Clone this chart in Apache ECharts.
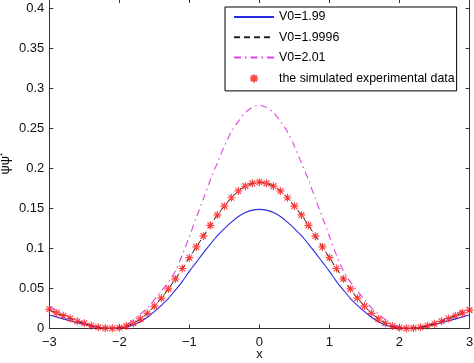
<!DOCTYPE html>
<html>
<head>
<meta charset="utf-8">
<script src="https://cdn.jsdelivr.net/npm/echarts@6/dist/echarts.min.js"></script>
<style>html,body{margin:0;padding:0;background:#fff}#c{width:474px;height:363px}</style>
</head>
<body>
<div id="c"></div>
<script>
const xs = [-3.0,-2.9,-2.8,-2.7,-2.6,-2.5,-2.4,-2.3,-2.2,-2.1,-2.0,-1.9,-1.8,-1.7,-1.6,-1.5,-1.4,-1.3,-1.2,-1.1,-1.0,-0.9,-0.8,-0.7,-0.6,-0.5,-0.4,-0.3,-0.2,-0.1,0.0,0.1,0.2,0.3,0.4,0.5,0.6,0.7,0.8,0.9,1.0,1.1,1.2,1.3,1.4,1.5,1.6,1.7,1.8,1.9,2.0,2.1,2.2,2.3,2.4,2.5,2.6,2.7,2.8,2.9,3.0];
const v199 = [0.017,0.0145,0.012,0.0096,0.0072,0.005,0.003,0.0014,0.0005,0.0002,0.0005,0.0018,0.0045,0.0085,0.014,0.021,0.029,0.0375,0.048,0.059,0.0715,0.083,0.0945,0.1055,0.116,0.125,0.133,0.140,0.145,0.148,0.149,0.148,0.145,0.140,0.133,0.125,0.116,0.1055,0.0945,0.083,0.0715,0.059,0.048,0.0375,0.029,0.021,0.014,0.0085,0.0045,0.0018,0.0005,0.0002,0.0005,0.0014,0.003,0.005,0.0072,0.0096,0.012,0.0145,0.017];
const v19996 = [0.023,0.0195,0.016,0.0125,0.009,0.006,0.0035,0.0015,0.0005,0.0002,0.001,0.003,0.0065,0.012,0.019,0.028,0.038,0.0495,0.062,0.075,0.0885,0.102,0.1155,0.129,0.142,0.153,0.1635,0.172,0.178,0.1815,0.183,0.1815,0.178,0.172,0.1635,0.153,0.142,0.129,0.1155,0.102,0.0885,0.075,0.062,0.0495,0.038,0.028,0.019,0.012,0.0065,0.003,0.001,0.0002,0.0005,0.0015,0.0035,0.006,0.009,0.0125,0.016,0.0195,0.023];
const v201 = [0.028,0.023,0.018,0.014,0.010,0.007,0.004,0.002,0.0005,0.0003,0.002,0.005,0.011,0.018,0.026,0.036,0.047,0.058,0.072,0.092,0.115,0.139,0.162,0.186,0.207,0.228,0.246,0.259,0.270,0.2765,0.279,0.2765,0.270,0.259,0.246,0.228,0.207,0.186,0.162,0.139,0.115,0.092,0.072,0.058,0.047,0.036,0.026,0.018,0.011,0.005,0.002,0.0003,0.0005,0.002,0.004,0.007,0.010,0.014,0.018,0.023,0.028];
const expData = [0.024,0.0195,0.016,0.0125,0.009,0.0065,0.0035,0.0015,0.0005,0.0002,0.001,0.003,0.0065,0.012,0.019,0.028,0.038,0.0495,0.062,0.075,0.0885,0.102,0.1155,0.129,0.142,0.153,0.1635,0.172,0.178,0.1815,0.183,0.1815,0.178,0.172,0.1635,0.153,0.142,0.129,0.1155,0.102,0.0885,0.075,0.062,0.0495,0.038,0.028,0.019,0.012,0.0065,0.003,0.001,0.0002,0.0005,0.0015,0.0035,0.006,0.009,0.0125,0.016,0.0195,0.023];
const xTicks = [-3,-2,-1,0,1,2,3];
const yTicks = [0,0.05,0.1,0.15,0.2,0.25,0.3,0.35,0.4];
const names = ['V0=1.99','V0=1.9996','V0=2.01','the simulated experimental data'];

const pairs = v => xs.map((x,i)=>[x,v[i]]);
const FONT = 'Liberation Sans, Arial, Helvetica, sans-serif';
const AX = '#333';
const star = 'path://M0,-5L0,5M-5,0L5,0M-3.6,-3.6L3.6,3.6M-3.6,3.6L3.6,-3.6';

const chart = echarts.init(document.getElementById('c'), null, {renderer:'canvas'});
const xBase = {
  type:'value', min:-3, max:3, interval:1,
  axisLine:{show:true, onZero:false, lineStyle:{color:AX,width:1}},
  axisTick:{show:true, inside:true, length:4, lineStyle:{color:AX}},
  splitLine:{show:false}
};
const yBase = {
  type:'value', min:0, max:0.412, interval:0.05,
  axisLine:{show:true, onZero:false, lineStyle:{color:AX,width:1}},
  axisTick:{show:true, inside:true, length:4, lineStyle:{color:AX}},
  splitLine:{show:false}
};
chart.setOption({
  animation:false,
  backgroundColor:'#fff',
  grid:{left:49.3, right:4.5, top:-1, bottom:34.5, containLabel:false, outerBoundsMode:'none'},
  xAxis:[
    Object.assign({}, xBase, {position:'bottom',
      name:'x', nameLocation:'middle', nameGap:19, nameMoveOverlap:false,
      nameTextStyle:{fontFamily:FONT, fontSize:13, color:'#111'},
      axisLabel:{show:true, margin:7, fontFamily:FONT, fontSize:13, color:'#111',
        formatter:v=> xTicks.includes(v) ? String(v).replace('-','\u2212') : ''}}),
    Object.assign({}, xBase, {position:'top', axisLabel:{show:false}})
  ],
  yAxis:[
    Object.assign({}, yBase, {position:'left',
      name:'{a|\u03c8\u03c8}{s|*}', nameLocation:'middle', nameGap:37, nameMoveOverlap:false,
      nameTextStyle:{fontFamily:FONT, fontSize:13, color:'#111',
        rich:{a:{fontFamily:FONT,fontSize:13,color:'#111'}, s:{fontFamily:FONT,fontSize:8,color:'#111',padding:[0,0,6,0]}}},
      axisLabel:{show:true, margin:5, fontFamily:FONT, fontSize:13, color:'#111',
        formatter:v=>{ const m = yTicks.find(t=>Math.abs(t-v)<1e-9); return m===undefined ? '' : String(m); }}}),
    Object.assign({}, yBase, {position:'right', axisLabel:{show:false}})
  ],
  legend:{
    orient:'vertical', left:225, top:7,
    padding:[4,2,6,8], itemGap:8.3, itemWidth:40, itemHeight:8,
    backgroundColor:'#fff', borderColor:'#000', borderWidth:1, borderRadius:0,
    textStyle:{fontFamily:FONT, fontSize:12.4, color:'#000'},
    data:[
      {name:names[0], itemStyle:{opacity:0}},
      {name:names[1], itemStyle:{opacity:0}},
      {name:names[2], itemStyle:{opacity:0}},
      {name:names[3]}
    ]
  },
  series:[
    {name:names[0], type:'line', data:pairs(v199), smooth:0.3, symbol:'none', showSymbol:false,
     lineStyle:{color:'#2a2ae6', width:1.1}, itemStyle:{color:'#2a2ae6'}, z:2},
    {name:names[1], type:'line', data:pairs(v19996), smooth:0.3, symbol:'none', showSymbol:false,
     lineStyle:{color:'#222', width:1, type:[6,4]}, itemStyle:{color:'#222'}, z:3},
    {name:names[2], type:'line', data:pairs(v201), smooth:0.3, symbol:'none', showSymbol:false,
     lineStyle:{color:'#e044e0', width:1.1, type:[7,4,1.5,4]}, itemStyle:{color:'#e044e0'}, z:2},
    {name:names[3], type:'scatter', data:pairs(expData), symbol:star, symbolSize:8,
     itemStyle:{color:'none', borderColor:'#ff1a1a', borderWidth:1.2}, z:4}
  ]
});
</script>
</body>
</html>
